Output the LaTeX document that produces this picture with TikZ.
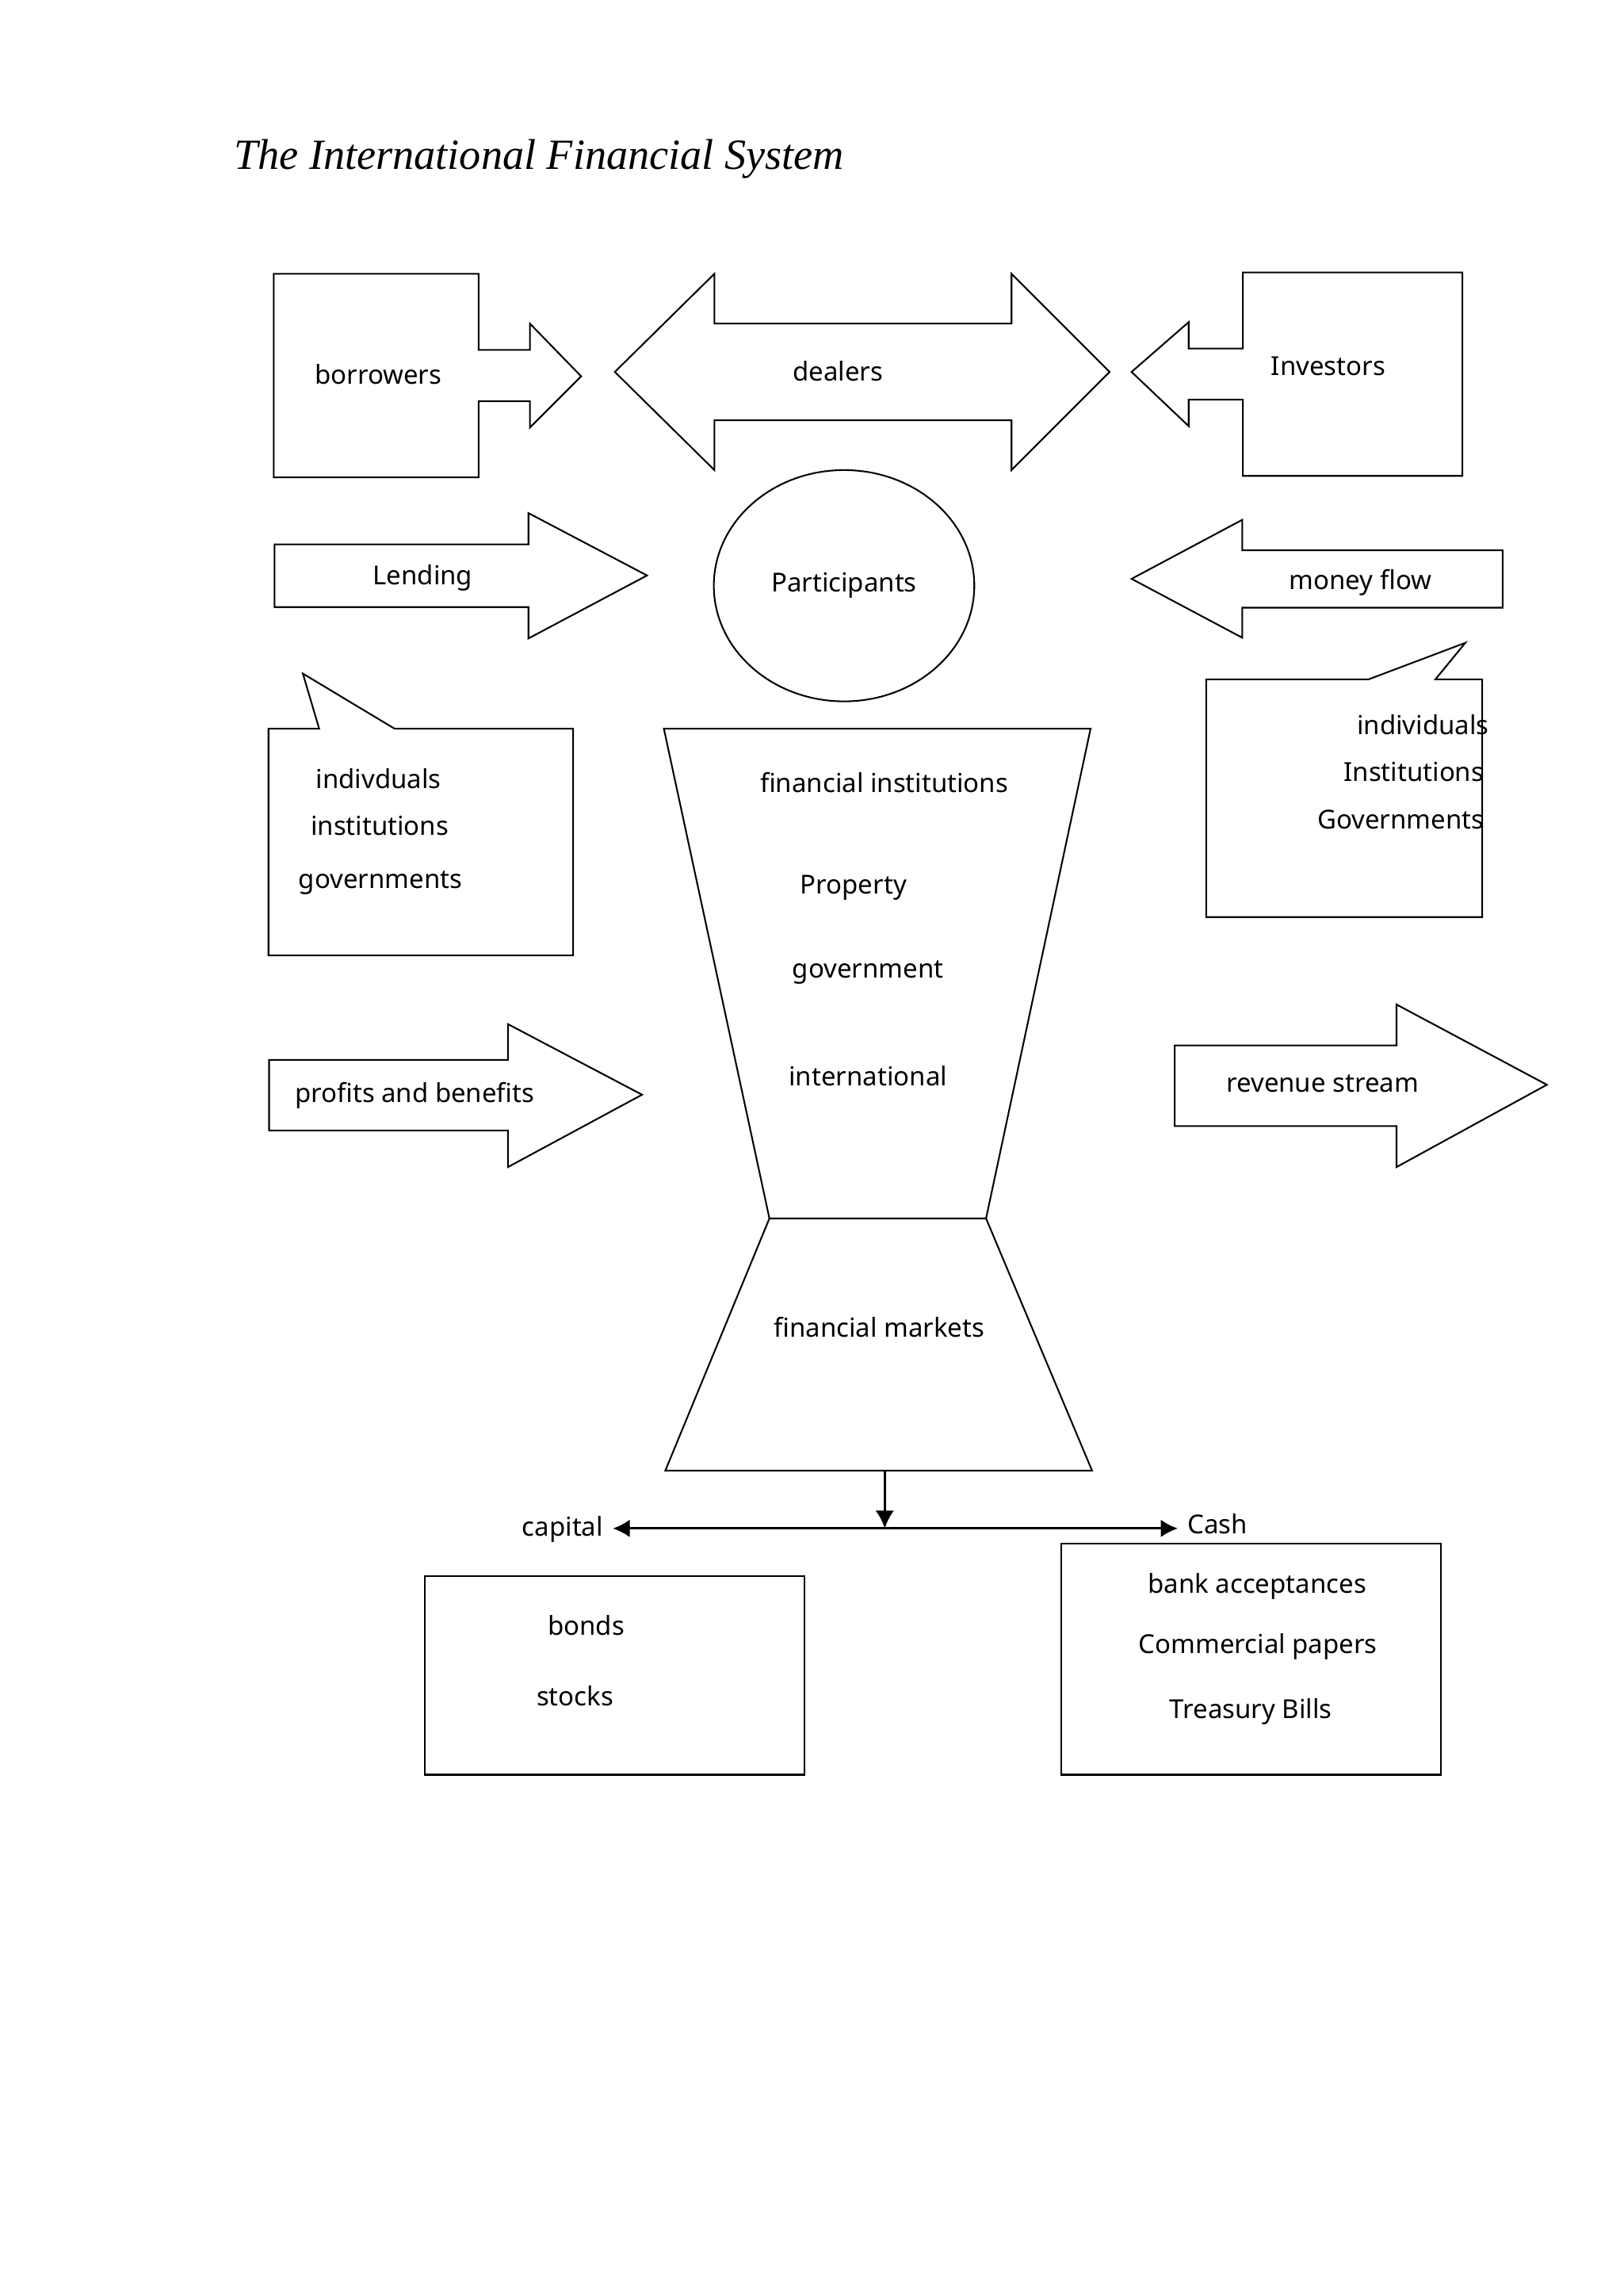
\documentclass[tikz,border=0pt]{standalone}
\usepackage{fontspec}
\setmainfont{Noto Sans}
\newfontfamily\titlefont{Liberation Serif}
\usetikzlibrary{shapes.geometric,arrows.meta}

\begin{document}
\begin{tikzpicture}[x=0.0189cm, y=-0.0189cm,
    outline/.style={draw, line width=0.6pt, line join=miter},
    lbl/.style={font=\fontsize{9.6}{11}\selectfont},
    flow/.style={line width=0.9pt, -{Latex[length=2.3mm,width=2.4mm]}},
    twoway/.style={line width=0.9pt, {Latex[length=2.2mm,width=2.3mm]}-{Latex[length=2.2mm,width=2.3mm]}}]
    \useasboundingbox (0,0) rectangle (1109,1568);

    % Title
    \node[anchor=base west, inner sep=0, font=\titlefont\itshape\fontsize{15.8}{18}\selectfont]
        (title) at (159.4,115.5) {The International Financial System};

    % Top row: borrowers, dealers, investors
    \draw[outline] (187,187) -- (327,187) -- (327,239) -- (362,239) -- (362,221)
        -- (397,257) -- (362,292) -- (362,274) -- (327,274) -- (327,326) -- (187,326) -- cycle;
    \draw[outline] (420,254) -- (488,187) -- (488,221) -- (691,221) -- (691,187)
        -- (758,254) -- (691,321) -- (691,287) -- (488,287) -- (488,321) -- cycle;
    \draw[outline] (999,186) -- (849,186) -- (849,238) -- (812,238) -- (812,220)
        -- (773,254) -- (812,291) -- (812,273) -- (849,273) -- (849,325) -- (999,325) -- cycle;
    \node[lbl] (borrowers) at (258.4,255.4) {borrowers};
    \node[lbl] (dealers) at (572.5,253.5) {dealers};
    \node[lbl] (investors) at (907.4,250) {Investors};

    % Second row: lending, participants, money flow
    \draw[outline] (187.5,371.8) -- (361,371.8) -- (361,350.4) -- (442,393)
        -- (361,436) -- (361,414.6) -- (187.5,414.6) -- cycle;
    \draw[outline] (1026.5,375.8) -- (848.6,375.8) -- (848.6,355) -- (773,395.3)
        -- (848.6,435.5) -- (848.6,415) -- (1026.5,415) -- cycle;
    \node[lbl] (lending) at (288.8,394.7) {Lending};
    \node[lbl] (moneyflow) at (929.4,398) {money flow};
    \node[outline, ellipse, lbl, inner sep=0, minimum width=3.364cm, minimum height=2.986cm]
        (participants) at (576.6,400) {Participants};

    % Callouts
    \draw[outline] (183.4,497.6) -- (218,497.6) -- (206.9,460) -- (269.5,497.6)
        -- (391.5,497.6) -- (391.5,652.5) -- (183.4,652.5) -- cycle;
    \node[lbl] (indleft) at (258.6,531.6) {indivduals};
    \node[lbl] (instleft) at (259.4,564) {institutions};
    \node[lbl] (govleft) at (259.9,602.8) {governments};

    \draw[outline] (824,463.9) -- (935,463.9) -- (1001,439) -- (980.6,463.9)
        -- (1012.5,463.9) -- (1012.5,626.3) -- (824,626.3) -- cycle;
    \node[lbl, anchor=east, inner sep=0] (indright) at (1017.5,495) {individuals};
    \node[lbl, anchor=east, inner sep=0] (instright) at (1014,527) {Institutions};
    \node[lbl, anchor=east, inner sep=0] (govright) at (1014,559.5) {Governments};

    % Funnel
    \draw[outline] (453.5,497.6) -- (745,497.6) -- (673.6,832.1) -- (525.6,832.1) -- cycle;
    \draw[outline] (525.6,832.1) -- (673.6,832.1) -- (746,1004.3) -- (454.5,1004.3) -- cycle;
    \node[lbl] (fininst) at (604,534.3) {financial institutions};
    \node[lbl] (property) at (583,606) {Property};
    \node[lbl] (government) at (593,664) {government};
    \node[lbl] (international) at (593,734.6) {international};
    \node[lbl] (finmarkets) at (600.6,906.2) {financial markets};

    % Third row arrows
    \draw[outline] (183.8,723.8) -- (347,723.8) -- (347,699.4) -- (438.6,747.6)
        -- (347,797) -- (347,772) -- (183.8,772) -- cycle;
    \draw[outline] (802.5,713.9) -- (954,713.9) -- (954,686) -- (1056.7,740.8)
        -- (954,797) -- (954,769) -- (802.5,769) -- cycle;
    \node[lbl] (profits) at (283.3,748) {profits and benefits};
    \node[lbl] (revenue) at (903.5,740) {revenue stream};

    % Split into capital and cash
    \coordinate (fmbottom) at (604.4,1004.3);
    \coordinate (split) at (604.4,1043.8);
    \node[lbl] (capital) at (384.4,1044.3) {capital};
    \node[lbl] (cash) at (831.6,1040.8) {Cash};
    \draw[flow] (fmbottom) -- (split);
    \draw[twoway] (capital.east |- split) -- (cash.west |- split);

    % Instruments
    \draw[outline] (290,1076.6) rectangle (549.7,1212);
    \draw[outline] (725,1054.2) rectangle (984.5,1212);
    \node[lbl] (bonds) at (400.4,1110) {bonds};
    \node[lbl] (stocks) at (392.8,1158) {stocks};
    \node[lbl] (bankacc) at (858.8,1083.5) {bank acceptances};
    \node[lbl] (commpapers) at (859.4,1124.3) {Commercial papers};
    \node[lbl] (tbills) at (854.4,1169) {Treasury Bills};
\end{tikzpicture}
\end{document}
